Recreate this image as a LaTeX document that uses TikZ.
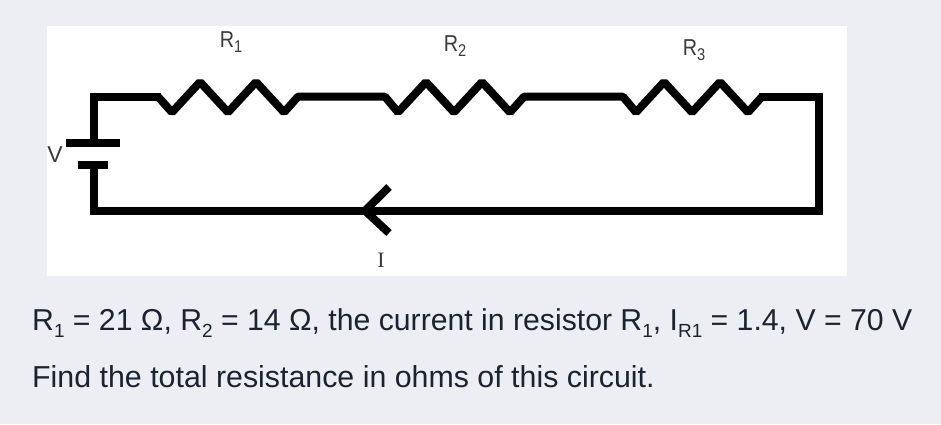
\documentclass[tikz,border=0pt]{standalone}
\usepackage{fontspec}
\setmainfont{Liberation Sans}
\newfontfamily\serifx{Liberation Serif}
\definecolor{pagebg}{HTML}{ECEEF3}
\definecolor{txt}{HTML}{1B2230}
\definecolor{lab}{HTML}{3A3A3A}
\newcommand{\subx}[1]{\raisebox{-0.26em}{\fontsize{19}{19}\selectfont #1}}
\newcommand{\rlab}[1]{\scalebox{0.86}[1]{R\raisebox{-0.22em}{\fontsize{17}{17}\selectfont #1}}}
\tikzset{
  wire/.style={line width=8pt,line join=miter,line cap=butt,black},
  zigzag/.style={line width=8pt,line join=bevel,line cap=butt,black},
  plate/.style={line width=8pt,line cap=butt,black},
  complabel/.style={inner sep=0pt,text=lab,font=\fontsize{23}{23}\selectfont},
  bodytext/.style={anchor=base west,inner sep=0pt,text=txt,font=\fontsize{30.2}{30.2}\selectfont}
}
\begin{document}
\begin{tikzpicture}[x=1pt,y=-1pt]
\useasboundingbox (0,0) rectangle (941,424);
\fill[pagebg] (0,0) rectangle (941,424);
\fill[white] (47,26) rectangle (847,276);
% corners and terminals
\coordinate (plus) at (94,142);
\coordinate (tl) at (94,96.7);
\coordinate (tr) at (818.7,96.7);
\coordinate (br) at (818.7,210.7);
\coordinate (bl) at (94,210.7);
\coordinate (minus) at (94,165);
\coordinate (tip) at (365,210.7);
\coordinate (barbA) at (389,187);
\coordinate (barbB) at (389,233);
\coordinate (zigstart) at (158,96.7);
\coordinate (zigend) at (762,96.7);
% battery
\draw[plate] (66,142.7) -- (120,142.7);
\draw[plate] (78,165) -- (108,165);
% top wire with the three resistors
\draw[wire] (plus) -- (tl) -- ([xshift=3pt]zigstart);
\draw[zigzag] (zigstart) -- (172,112.3) -- (200,82) -- (228,112.3) -- (256,82) -- (284,112.3) -- (298,96.7)
  -- (385,96.7) -- (398,112.3) -- (426,82) -- (454,112.3) -- (482,82) -- (510,112.3) -- (524,96.7)
  -- (623,96.7) -- (636,112.3) -- (664,82) -- (692,112.3) -- (720,82) -- (748,112.3) -- (zigend);
\draw[wire] ([xshift=-3pt]zigend) -- (tr) -- (br) -- (bl) -- (minus);
% arrowhead on the bottom wire
\draw[wire,line join=round] (barbA) -- (tip) -- (barbB);
% labels
\node[complabel] (r1) at (231,42) {\rlab{1}};
\node[complabel] (r2) at (455,46) {\rlab{2}};
\node[complabel] (r3) at (694,50) {\rlab{3}};
\node[complabel] (vlab) at (55,154.5) {V};
\node[complabel,font=\serifx\fontsize{22}{22}\selectfont] (ilab) at (381,260) {I};
% text
\node[bodytext] (line1) at (32,330) {R\subx{1} = 21 Ω, R\subx{2} = 14 Ω, the current in resistor R\subx{1}, I\subx{R1} = 1.4, V = 70 V};
\node[bodytext,font=\fontsize{30.35}{30.35}\selectfont] (line2) at (32,387) {Find the total resistance in ohms of this circuit.};
\end{tikzpicture}
\end{document}
